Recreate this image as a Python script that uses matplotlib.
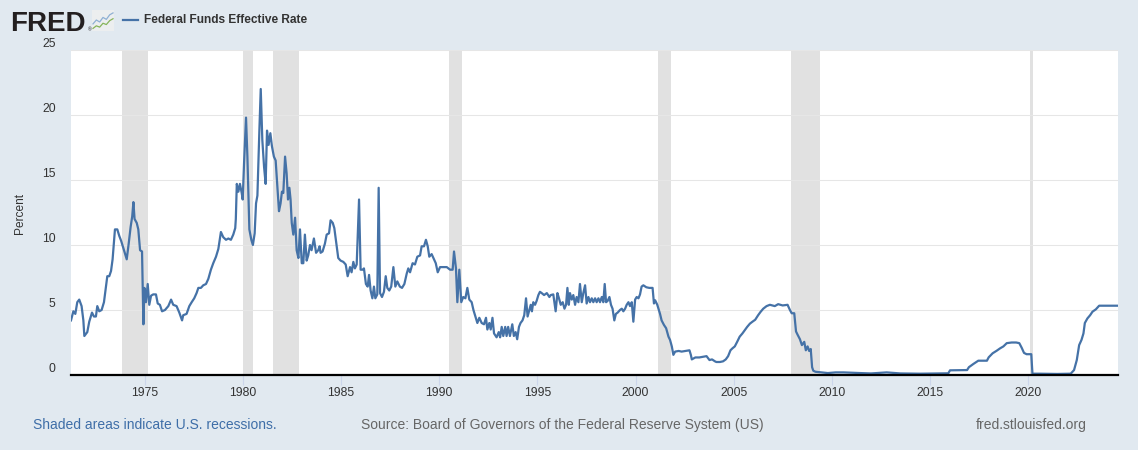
import matplotlib
matplotlib.use('Agg')
import matplotlib.pyplot as plt
from matplotlib.lines import Line2D

plt.rcParams['font.family'] = ['Liberation Sans', 'DejaVu Sans']

# 数据：联邦基金有效利率 (年份为小数)
dates = [
    1971.23, 1971.35, 1971.45, 1971.55, 1971.65, 1971.77, 1971.86, 1971.91, 1972.06, 1972.16,
    1972.30, 1972.40, 1972.50, 1972.57, 1972.67, 1972.79, 1972.91, 1973.01, 1973.08, 1973.18,
    1973.27, 1973.35, 1973.47, 1973.59, 1973.69, 1973.79, 1973.93, 1974.07, 1974.17, 1974.27,
    1974.35, 1974.41, 1974.47, 1974.58, 1974.66, 1974.75, 1974.85, 1974.92, 1974.97, 1975.05,
    1975.14, 1975.22, 1975.31, 1975.42, 1975.56, 1975.65, 1975.76, 1975.87, 1976.02, 1976.19,
    1976.33, 1976.44, 1976.61, 1976.75, 1976.89, 1976.95, 1977.12, 1977.26, 1977.38, 1977.51,
    1977.63, 1977.72, 1977.85, 1977.97, 1978.11, 1978.23, 1978.36, 1978.48, 1978.62, 1978.74,
    1978.87, 1978.99, 1979.13, 1979.25, 1979.38, 1979.50, 1979.60, 1979.63, 1979.68, 1979.76,
    1979.84, 1979.93, 1979.98, 1980.05, 1980.15, 1980.22, 1980.32, 1980.42, 1980.50, 1980.59,
    1980.66, 1980.73, 1980.83, 1980.90, 1980.98, 1981.07, 1981.15, 1981.22, 1981.30, 1981.39,
    1981.47, 1981.57, 1981.66, 1981.74, 1981.83, 1981.91, 1981.98, 1982.05, 1982.14, 1982.22,
    1982.29, 1982.36, 1982.42, 1982.48, 1982.56, 1982.65, 1982.73, 1982.82, 1982.90, 1982.99,
    1983.07, 1983.15, 1983.24, 1983.32, 1983.41, 1983.49, 1983.61, 1983.72, 1983.83, 1983.90,
    1983.95, 1984.05, 1984.17, 1984.26, 1984.38, 1984.46, 1984.57, 1984.65, 1984.77, 1984.85,
    1984.97, 1985.11, 1985.23, 1985.33, 1985.45, 1985.53, 1985.62, 1985.70, 1985.79, 1985.91,
    1985.99, 1986.10, 1986.16, 1986.26, 1986.35, 1986.42, 1986.50, 1986.59, 1986.67, 1986.74,
    1986.84, 1986.91, 1986.98, 1987.08, 1987.18, 1987.27, 1987.35, 1987.45, 1987.55, 1987.66,
    1987.76, 1987.86, 1987.99, 1988.10, 1988.22, 1988.34, 1988.42, 1988.51, 1988.64, 1988.76,
    1988.88, 1989.02, 1989.10, 1989.22, 1989.32, 1989.41, 1989.49, 1989.61, 1989.70, 1989.82,
    1989.92, 1990.04, 1990.21, 1990.38, 1990.55, 1990.68, 1990.75, 1990.85, 1990.92, 1991.02,
    1991.12, 1991.22, 1991.33, 1991.43, 1991.53, 1991.65, 1991.74, 1991.84, 1991.94, 1992.04,
    1992.16, 1992.28, 1992.38, 1992.45, 1992.55, 1992.62, 1992.71, 1992.79, 1992.92, 1993.03,
    1993.10, 1993.18, 1993.26, 1993.36, 1993.43, 1993.51, 1993.60, 1993.72, 1993.80, 1993.89,
    1993.97, 1994.06, 1994.14, 1994.24, 1994.33, 1994.42, 1994.50, 1994.59, 1994.66, 1994.72,
    1994.79, 1994.88, 1994.96, 1995.05, 1995.13, 1995.22, 1995.34, 1995.48, 1995.61, 1995.68,
    1995.81, 1995.93, 1996.02, 1996.10, 1996.19, 1996.29, 1996.38, 1996.46, 1996.53, 1996.60,
    1996.66, 1996.75, 1996.83, 1996.92, 1997.00, 1997.09, 1997.17, 1997.26, 1997.34, 1997.43,
    1997.51, 1997.60, 1997.68, 1997.77, 1997.85, 1997.94, 1998.02, 1998.11, 1998.19, 1998.28,
    1998.36, 1998.43, 1998.50, 1998.58, 1998.67, 1998.75, 1998.83, 1998.92, 1999.00, 1999.09,
    1999.21, 1999.30, 1999.38, 1999.47, 1999.55, 1999.64, 1999.72, 1999.81, 1999.89, 1999.98,
    2000.06, 2000.15, 2000.23, 2000.31, 2000.40, 2000.55, 2000.70, 2000.87, 2000.94, 2001.00,
    2001.11, 2001.25, 2001.33, 2001.45, 2001.56, 2001.68, 2001.76, 2001.85, 2001.93, 2002.02,
    2002.20, 2002.35, 2002.55, 2002.75, 2002.82, 2002.87, 2003.05, 2003.25, 2003.45, 2003.62,
    2003.77, 2003.90, 2004.05, 2004.12, 2004.30, 2004.46, 2004.60, 2004.72, 2004.84, 2004.94,
    2005.06, 2005.18, 2005.31, 2005.45, 2005.57, 2005.69, 2005.83, 2005.96, 2006.10, 2006.25,
    2006.37, 2006.51, 2006.68, 2006.85, 2007.10, 2007.27, 2007.50, 2007.75, 2007.87, 2007.96,
    2008.09, 2008.18, 2008.26, 2008.38, 2008.48, 2008.60, 2008.68, 2008.77, 2008.85, 2008.93,
    2009.00, 2009.06, 2009.17, 2009.50, 2009.80, 2010.20, 2010.60, 2011.00, 2011.44, 2012.00,
    2012.80, 2013.50, 2014.50, 2015.50, 2015.94, 2016.03, 2016.90, 2016.99, 2017.22, 2017.47,
    2017.91, 2018.00, 2018.20, 2018.41, 2018.58, 2018.75, 2018.92, 2019.17, 2019.40, 2019.56,
    2019.68, 2019.80, 2019.93, 2020.17, 2020.23, 2020.60, 2021.50, 2022.18, 2022.35, 2022.49,
    2022.61, 2022.73, 2022.83, 2022.90, 2023.03, 2023.17, 2023.29, 2023.46, 2023.63, 2024.59,
]
rate = [
    4.2, 4.9, 4.7, 5.6, 5.8, 5.3, 4.2, 3.0, 3.3, 4.1,
    4.8, 4.5, 4.5, 5.3, 4.9, 5.0, 5.6, 6.8, 7.6, 7.6,
    8.0, 8.9, 11.2, 11.2, 10.7, 10.3, 9.6, 8.9, 10.1, 11.4,
    12.2, 13.3, 12.0, 11.7, 11.2, 9.6, 9.5, 3.9, 6.7, 5.6,
    7.0, 5.4, 6.1, 6.2, 6.2, 5.5, 5.4, 4.9, 5.0, 5.3,
    5.8, 5.4, 5.3, 4.8, 4.2, 4.6, 4.7, 5.3, 5.6, 5.9,
    6.3, 6.7, 6.7, 6.9, 7.0, 7.4, 8.1, 8.6, 9.1, 9.7,
    11.0, 10.6, 10.4, 10.5, 10.4, 10.8, 11.3, 12.0, 14.7, 14.1,
    14.7, 14.0, 13.5, 16.3, 19.8, 16.8, 11.2, 10.4, 10.0, 10.9,
    13.2, 13.8, 18.8, 22.0, 18.1, 16.0, 14.7, 18.8, 17.7, 18.6,
    17.6, 16.8, 16.5, 14.7, 12.6, 13.2, 14.1, 14.0, 16.8, 15.5,
    13.5, 14.4, 13.5, 11.7, 10.8, 12.1, 9.6, 9.0, 11.2, 8.6,
    8.6, 10.8, 8.8, 9.2, 10.0, 9.6, 10.5, 9.4, 9.6, 9.9,
    9.4, 9.5, 10.1, 10.8, 10.9, 11.9, 11.7, 11.3, 9.9, 9.0,
    8.8, 8.7, 8.5, 7.6, 8.3, 7.9, 8.7, 8.2, 8.5, 13.5,
    8.1, 8.1, 8.2, 7.0, 6.8, 7.7, 6.5, 5.9, 6.8, 5.9,
    6.2, 14.4, 6.3, 6.0, 6.4, 7.6, 6.7, 6.5, 6.8, 8.3,
    6.8, 7.2, 6.8, 6.7, 7.0, 7.8, 8.2, 7.9, 8.6, 8.5,
    9.1, 9.2, 9.9, 9.9, 10.4, 9.9, 9.1, 9.3, 9.0, 8.6,
    7.9, 8.3, 8.3, 8.3, 8.1, 8.1, 9.5, 8.2, 5.6, 8.1,
    5.6, 6.0, 5.9, 6.7, 5.8, 5.6, 5.0, 4.5, 4.0, 4.4,
    4.0, 3.9, 4.4, 3.5, 4.0, 3.5, 4.4, 3.2, 2.9, 3.3,
    2.9, 3.7, 3.0, 3.7, 3.0, 3.7, 3.0, 3.9, 3.0, 3.3,
    2.75, 3.7, 4.0, 4.2, 4.6, 5.9, 4.5, 5.0, 5.4, 4.9,
    5.6, 5.4, 5.7, 6.15, 6.4, 6.3, 6.15, 6.3, 6.0, 6.15,
    6.2, 4.9, 6.3, 5.9, 5.4, 5.6, 5.1, 5.4, 6.7, 5.4,
    6.3, 5.8, 6.15, 5.4, 6.0, 5.6, 7.0, 5.6, 6.3, 6.9,
    5.5, 6.0, 5.6, 5.9, 5.6, 5.9, 5.6, 5.9, 5.6, 6.0,
    5.6, 7.0, 5.6, 5.7, 6.0, 5.4, 5.1, 4.2, 4.7, 4.8,
    5.0, 5.1, 4.9, 5.1, 5.4, 5.6, 5.3, 5.6, 4.1, 5.8,
    6.0, 5.9, 6.2, 6.8, 6.9, 6.75, 6.7, 6.7, 5.5, 5.75,
    5.4, 4.7, 4.2, 3.85, 3.6, 2.95, 2.7, 2.2, 1.55, 1.8,
    1.85, 1.8, 1.85, 1.9, 1.55, 1.2, 1.35, 1.35, 1.4, 1.45,
    1.15, 1.2, 1.05, 1.0, 1.0, 1.05, 1.2, 1.45, 1.9, 2.05,
    2.2, 2.55, 2.95, 3.2, 3.45, 3.7, 3.95, 4.1, 4.25, 4.6,
    4.85, 5.1, 5.3, 5.4, 5.3, 5.45, 5.35, 5.4, 5.0, 4.75,
    4.75, 3.35, 3.1, 2.75, 2.3, 2.55, 1.9, 2.2, 1.85, 2.0,
    0.6, 0.33, 0.25, 0.2, 0.15, 0.2, 0.2, 0.18, 0.15, 0.12,
    0.2, 0.12, 0.1, 0.12, 0.13, 0.36, 0.38, 0.6, 0.85, 1.1,
    1.1, 1.36, 1.67, 1.87, 2.05, 2.2, 2.45, 2.5, 2.5, 2.45,
    2.1, 1.7, 1.6, 1.6, 0.1, 0.1, 0.08, 0.1, 0.38, 1.15,
    2.3, 2.7, 3.2, 4.0, 4.35, 4.6, 4.87, 5.05, 5.33, 5.33,
]

# 经济衰退区间 (开始, 结束)
rec_start = [1973.83, 1980.00, 1981.50, 1990.50, 2001.17, 2007.92, 2020.08]
rec_end = [1975.17, 1980.50, 1982.83, 1991.17, 2001.83, 2009.42, 2020.25]

year_ticks = [1975, 1980, 1985, 1990, 1995, 2000, 2005, 2010, 2015, 2020]
pct_ticks = [0, 5, 10, 15, 20, 25]

# 图标里的小折线
icon_x = [0, 1, 2, 3, 4, 5, 6]
icon_blue = [2.2, 3.4, 2.8, 4.2, 3.6, 5.0, 5.6]
icon_green = [0.8, 1.6, 1.2, 2.4, 2.0, 3.2, 3.8]

W, H = 1138, 450
fig = plt.figure(figsize=(W / 100, H / 100), dpi=100, facecolor='#e1e9f0')

ax = fig.add_axes([71 / W, 75 / H, 1047 / W, 325 / H])
ax.set_facecolor('white')

for s, e in zip(rec_start, rec_end):
    ax.axvspan(s, e, color='#e1e1e1', lw=0, zorder=0)

ax.plot(dates, rate, color='#4572a7', lw=1.6, solid_joinstyle='round', zorder=3)

ax.set_xlim(1971.23, 2024.59)
ax.set_ylim(0, 25)
ax.set_xticks(year_ticks)
ax.set_xticklabels([str(y) for y in year_ticks])
ax.set_yticks(pct_ticks)
ax.set_yticklabels([str(p) for p in pct_ticks])

ax.yaxis.grid(True, color='#e6e6e6', lw=0.75, zorder=1)
ax.set_axisbelow(True)

for side in ['top', 'right', 'left']:
    ax.spines[side].set_visible(False)
ax.spines['bottom'].set_color('black')
ax.spines['bottom'].set_linewidth(1.6)
ax.spines['bottom'].set_zorder(4)

ax.tick_params(axis='x', direction='out', length=7, width=0.8, color='#ccd6eb',
               labelsize=8.8, labelcolor='#333333', pad=1.5)
ax.tick_params(axis='y', length=0, labelsize=8.8, labelcolor='#333333', pad=11)
for lab in ax.get_yticklabels():
    lab.set_verticalalignment('bottom')

fig.text(20 / W, 1 - 213 / H, 'Percent', rotation=90, ha='center', va='center',
         fontsize=8.6, color='#333333')

# 顶部：FRED 标志和图例
fig.text(10 / W, 1 - 31 / H, 'FRED', fontsize=20, fontweight='bold',
         color='#231f20', ha='left', va='baseline')
fig.text(87.5 / W, 1 - 31 / H, '®', fontsize=3.5, color='#231f20', ha='left', va='baseline')

icon = fig.add_axes([92 / W, 1 - 31 / H, 22 / W, 21 / H])
icon.set_facecolor('#eceeef')
icon.plot(icon_x, icon_blue, color='#8fb0d4', lw=0.9)
icon.plot(icon_x, icon_green, color='#86b45a', lw=0.9)
icon.set_xlim(-0.3, 6.3)
icon.set_ylim(0, 6.5)
icon.set_xticks([])
icon.set_yticks([])
for sp in icon.spines.values():
    sp.set_visible(False)

fig.add_artist(Line2D([123 / W, 138 / W], [1 - 20 / H, 1 - 20 / H],
                      color='#4572a7', lw=1.6, transform=fig.transFigure))
fig.text(144 / W, 1 - 20 / H, 'Federal Funds Effective Rate', fontsize=8.6,
         fontweight='bold', color='#333333', ha='left', va='center')

# 底部说明
fig.text(33 / W, 1 - 425 / H, 'Shaded areas indicate U.S. recessions.', fontsize=10,
         color='#3e6ea8', ha='left', va='center')
fig.text(361 / W, 1 - 425 / H, 'Source: Board of Governors of the Federal Reserve System (US)',
         fontsize=10, color='#666666', ha='left', va='center')
fig.text(1087 / W, 1 - 425 / H, 'fred.stlouisfed.org', fontsize=10, color='#666666',
         ha='right', va='center')

fig.savefig('out.png', dpi=100, facecolor=fig.get_facecolor())
